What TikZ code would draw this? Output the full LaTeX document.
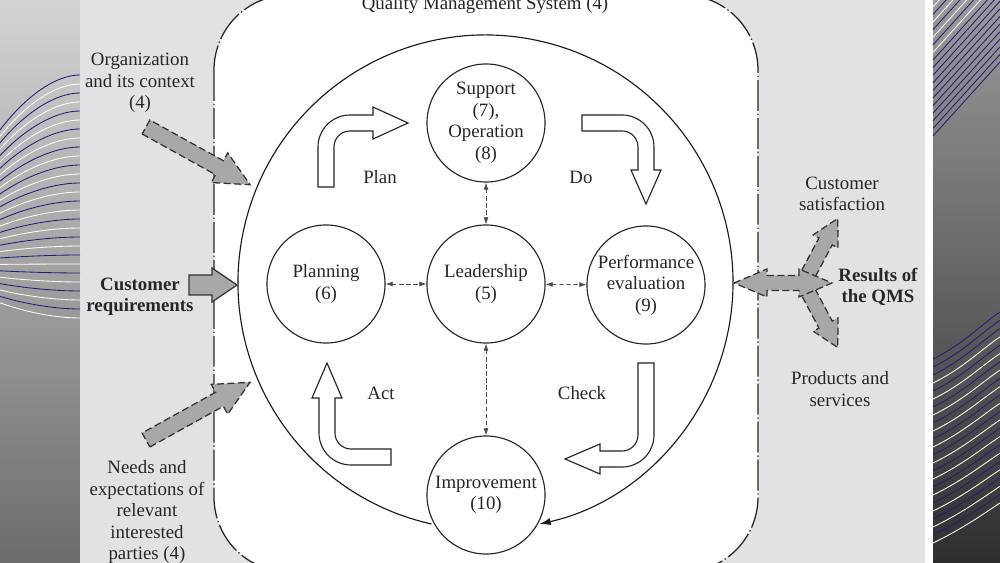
\documentclass[tikz,border=0pt]{standalone}
\usepackage{fontspec}
\setmainfont{Liberation Serif}
\usetikzlibrary{arrows.meta}

\definecolor{inkgray}{HTML}{262626}
\definecolor{panelgray}{HTML}{E2E2E4}
\definecolor{arrowgray}{HTML}{A8A8A8}
\definecolor{wavenavy}{HTML}{1E1E7A}
\definecolor{lefttop}{HTML}{D4D4D4}
\definecolor{leftbot}{HTML}{6C6C6C}
\definecolor{righttop}{HTML}{9A9A9A}
\definecolor{rightbot}{HTML}{2E2E2E}

\tikzset{
  txt/.style={font=\fontsize{13.4}{15.3}\selectfont, text=inkgray, align=center, inner sep=0pt},
  boldtxt/.style={txt, font=\fontsize{13.4}{15.3}\selectfont\bfseries},
  stage/.style={txt, circle, draw=black!85, line width=0.8pt, minimum size=2.95cm},
  link/.style={draw=black!70, line width=0.5pt, dash pattern=on 3pt off 2pt,
    {Latex[length=5pt,width=3.5pt]}-{Latex[length=5pt,width=3.5pt]}},
  pdca/.style={draw=black!85, fill=white, line width=0.8pt},
  feed/.style={draw=black!80, fill=arrowgray, line width=0.9pt, dash pattern=on 5pt off 2.5pt},
  pics/fatarrow/.style n args={4}{code={
    \path[pic actions] (0,-#4) -- ({#1-#2},-#4) -- ({#1-#2},-#3) -- (#1,0)
      -- ({#1-#2},#3) -- ({#1-#2},#4) -- (0,#4) -- cycle;
  }},
  pics/twinarrow/.style n args={4}{code={
    \path[pic actions] (0,0) -- (#2,#3) -- (#2,#4) -- ({#1-#2},#4) -- ({#1-#2},#3) -- (#1,0)
      -- ({#1-#2},-#3) -- ({#1-#2},-#4) -- (#2,-#4) -- (#2,-#3) -- cycle;
  }}
}

\begin{document}
\begin{tikzpicture}[x=0.025cm, y=0.025cm]
  \useasboundingbox (0,0) rectangle (1000,-563);
  \clip (0,0) rectangle (1000,-563);

  % side strips and the grey page
  \shade[top color=lefttop, bottom color=leftbot] (0,0) rectangle (80,-563);
  \fill[panelgray] (80,0) rectangle (925,-563);
  \fill[white] (925,0) rectangle (933,-563);
  \shade[top color=righttop, bottom color=rightbot] (933,0) rectangle (1000,-563);

  \foreach \j in {0,...,27} {  % fanned lines on the left strip
    \pgfmathsetmacro\ya{130+6.4*\j}
    \pgfmathsetmacro\yb{75+9*\j}
    \pgfmathsetmacro\yc{\ya+0.6*(\yb-\ya)}
    \pgfmathtruncatemacro\odd{mod(\j,2)}
    \ifnum\odd=0 \def\wc{wavenavy}\else\def\wc{white}\fi
    \draw[\wc, line width=0.6pt] (0,-\ya) .. controls (25,-\yc) and (55,-\yb) .. (80,-\yb);
  }
  \foreach \j in {0,...,17} {  % straight hatching, top of the right strip
    \pgfmathsetmacro\ya{136-7.6*\j}
    \pgfmathsetmacro\yb{62-7.6*\j}
    \pgfmathtruncatemacro\odd{mod(\j,2)}
    \ifnum\j>9 \ifnum\odd=1 \def\wc{white}\else\def\wc{wavenavy}\fi \else \def\wc{wavenavy}\fi
    \draw[\wc, line width=0.6pt] (933,-\ya) -- (1000,-\yb);
  }
  \foreach \j in {0,...,23} {  % curved lines, bottom of the right strip
    \pgfmathsetmacro\ya{359+8*\j}
    \pgfmathsetmacro\yb{312+8.3*\j}
    \pgfmathtruncatemacro\odd{mod(\j,2)}
    \ifnum\j<3 \def\wc{wavenavy}\else \ifnum\odd=1 \def\wc{white}\else\def\wc{wavenavy}\fi \fi
    \draw[\wc, line width=0.6pt] (933,-\ya) .. controls (962,{-(\ya-14)}) and (982,{-(\yb+12)}) .. (1000,-\yb);
  }

  % the system boundary
  \draw[fill=white, draw=black!85, line width=0.9pt, dash pattern=on 22pt off 2pt on 1pt off 2pt,
    rounded corners=1.875cm] (214,5) rectangle (758,-572);
  \node[txt, anchor=base] (qms) at (485,-10) {Quality Management System (4)};

  % the big loop, ending on Improvement
  \draw[black!90, line width=0.8pt, -{Latex[length=8pt,width=5pt]}]
    (431.5,-524) arc[start angle=257.4, end angle=-77.4, radius=247.5];

  % clauses
  \node[stage] (lead) at (486,-284) {Leadership\\(5)};
  \node[stage] (plan) at (326,-284) {Planning\\(6)};
  \node[stage] (supp) at (486,-123) {Support\\(7),\\Operation\\(8)};
  \node[stage] (perf) at (646,-285) {Performance\\evaluation\\(9)};
  \node[stage] (impr) at (486,-495) {Improvement\\(10)};

  \draw[link] (plan) -- (lead);
  \draw[link] (lead) -- (perf);
  \draw[link] (supp) -- (lead);
  \draw[link] (lead) -- (impr);

  % PDCA block arrows
  \draw[pdca] (318,-187) -- (318,-147) arc[start angle=180, end angle=90, radius=32]
    -- (373,-115) -- (373,-107) -- (408,-123) -- (373,-139) -- (373,-131) -- (350,-131)
    arc[start angle=90, end angle=180, radius=16] -- (334,-187) -- cycle;
  \draw[pdca] (582,-115) -- (622,-115) arc[start angle=90, end angle=0, radius=32]
    -- (654,-170) -- (661,-170) -- (646,-204) -- (631,-170) -- (638,-170) -- (638,-147)
    arc[start angle=0, end angle=90, radius=16] -- (582,-131) -- cycle;
  \draw[pdca] (654,-363) -- (654,-435) arc[start angle=0, end angle=-90, radius=32]
    -- (600,-467) -- (600,-474) -- (565,-459) -- (600,-444) -- (600,-451) -- (622,-451)
    arc[start angle=-90, end angle=0, radius=16] -- (638,-363) -- cycle;
  \draw[pdca] (391,-465) -- (351,-465) arc[start angle=-90, end angle=-180, radius=32]
    -- (319,-398) -- (312,-398) -- (327,-363) -- (342,-398) -- (335,-398) -- (335,-433)
    arc[start angle=180, end angle=270, radius=16] -- (391,-449) -- cycle;

  \node[txt] (plantxt) at (380,-177) {Plan};
  \node[txt] (dotxt) at (581,-177) {Do};
  \node[txt] (acttxt) at (381,-393) {Act};
  \node[txt] (checktxt) at (582,-393) {Check};

  % inputs
  \pic[feed, rotate=-29] at (146,-127) {fatarrow={119}{35}{17}{8}};
  \pic[feed, solid] at (189,-285) {fatarrow={48}{25}{17}{10}};
  \pic[feed, rotate=29] at (146,-440) {fatarrow={119}{35}{17}{8}};

  \node[txt] (context) at (140,-83) {Organization\\and its context\\(4)};
  \node[boldtxt] (custreq) at (140,-297) {Customer\\requirements};
  \node[txt] (needs) at (147,-512) {Needs and\\expectations of\\relevant\\interested\\parties (4)};

  % outputs
  \pic[feed, rotate=62] at (804,-282) {fatarrow={72}{26}{14}{7.5}};
  \pic[feed, rotate=-62] at (804,-284) {fatarrow={72}{26}{14}{7.5}};
  \pic[feed] at (734,-283) {twinarrow={98}{33}{14}{7.5}};

  \node[txt] (custsat) at (842,-194) {Customer\\satisfaction};
  \node[boldtxt] (results) at (878,-287) {Results of\\the QMS};
  \node[txt] (products) at (840,-389) {Products and\\services};
\end{tikzpicture}
\end{document}
